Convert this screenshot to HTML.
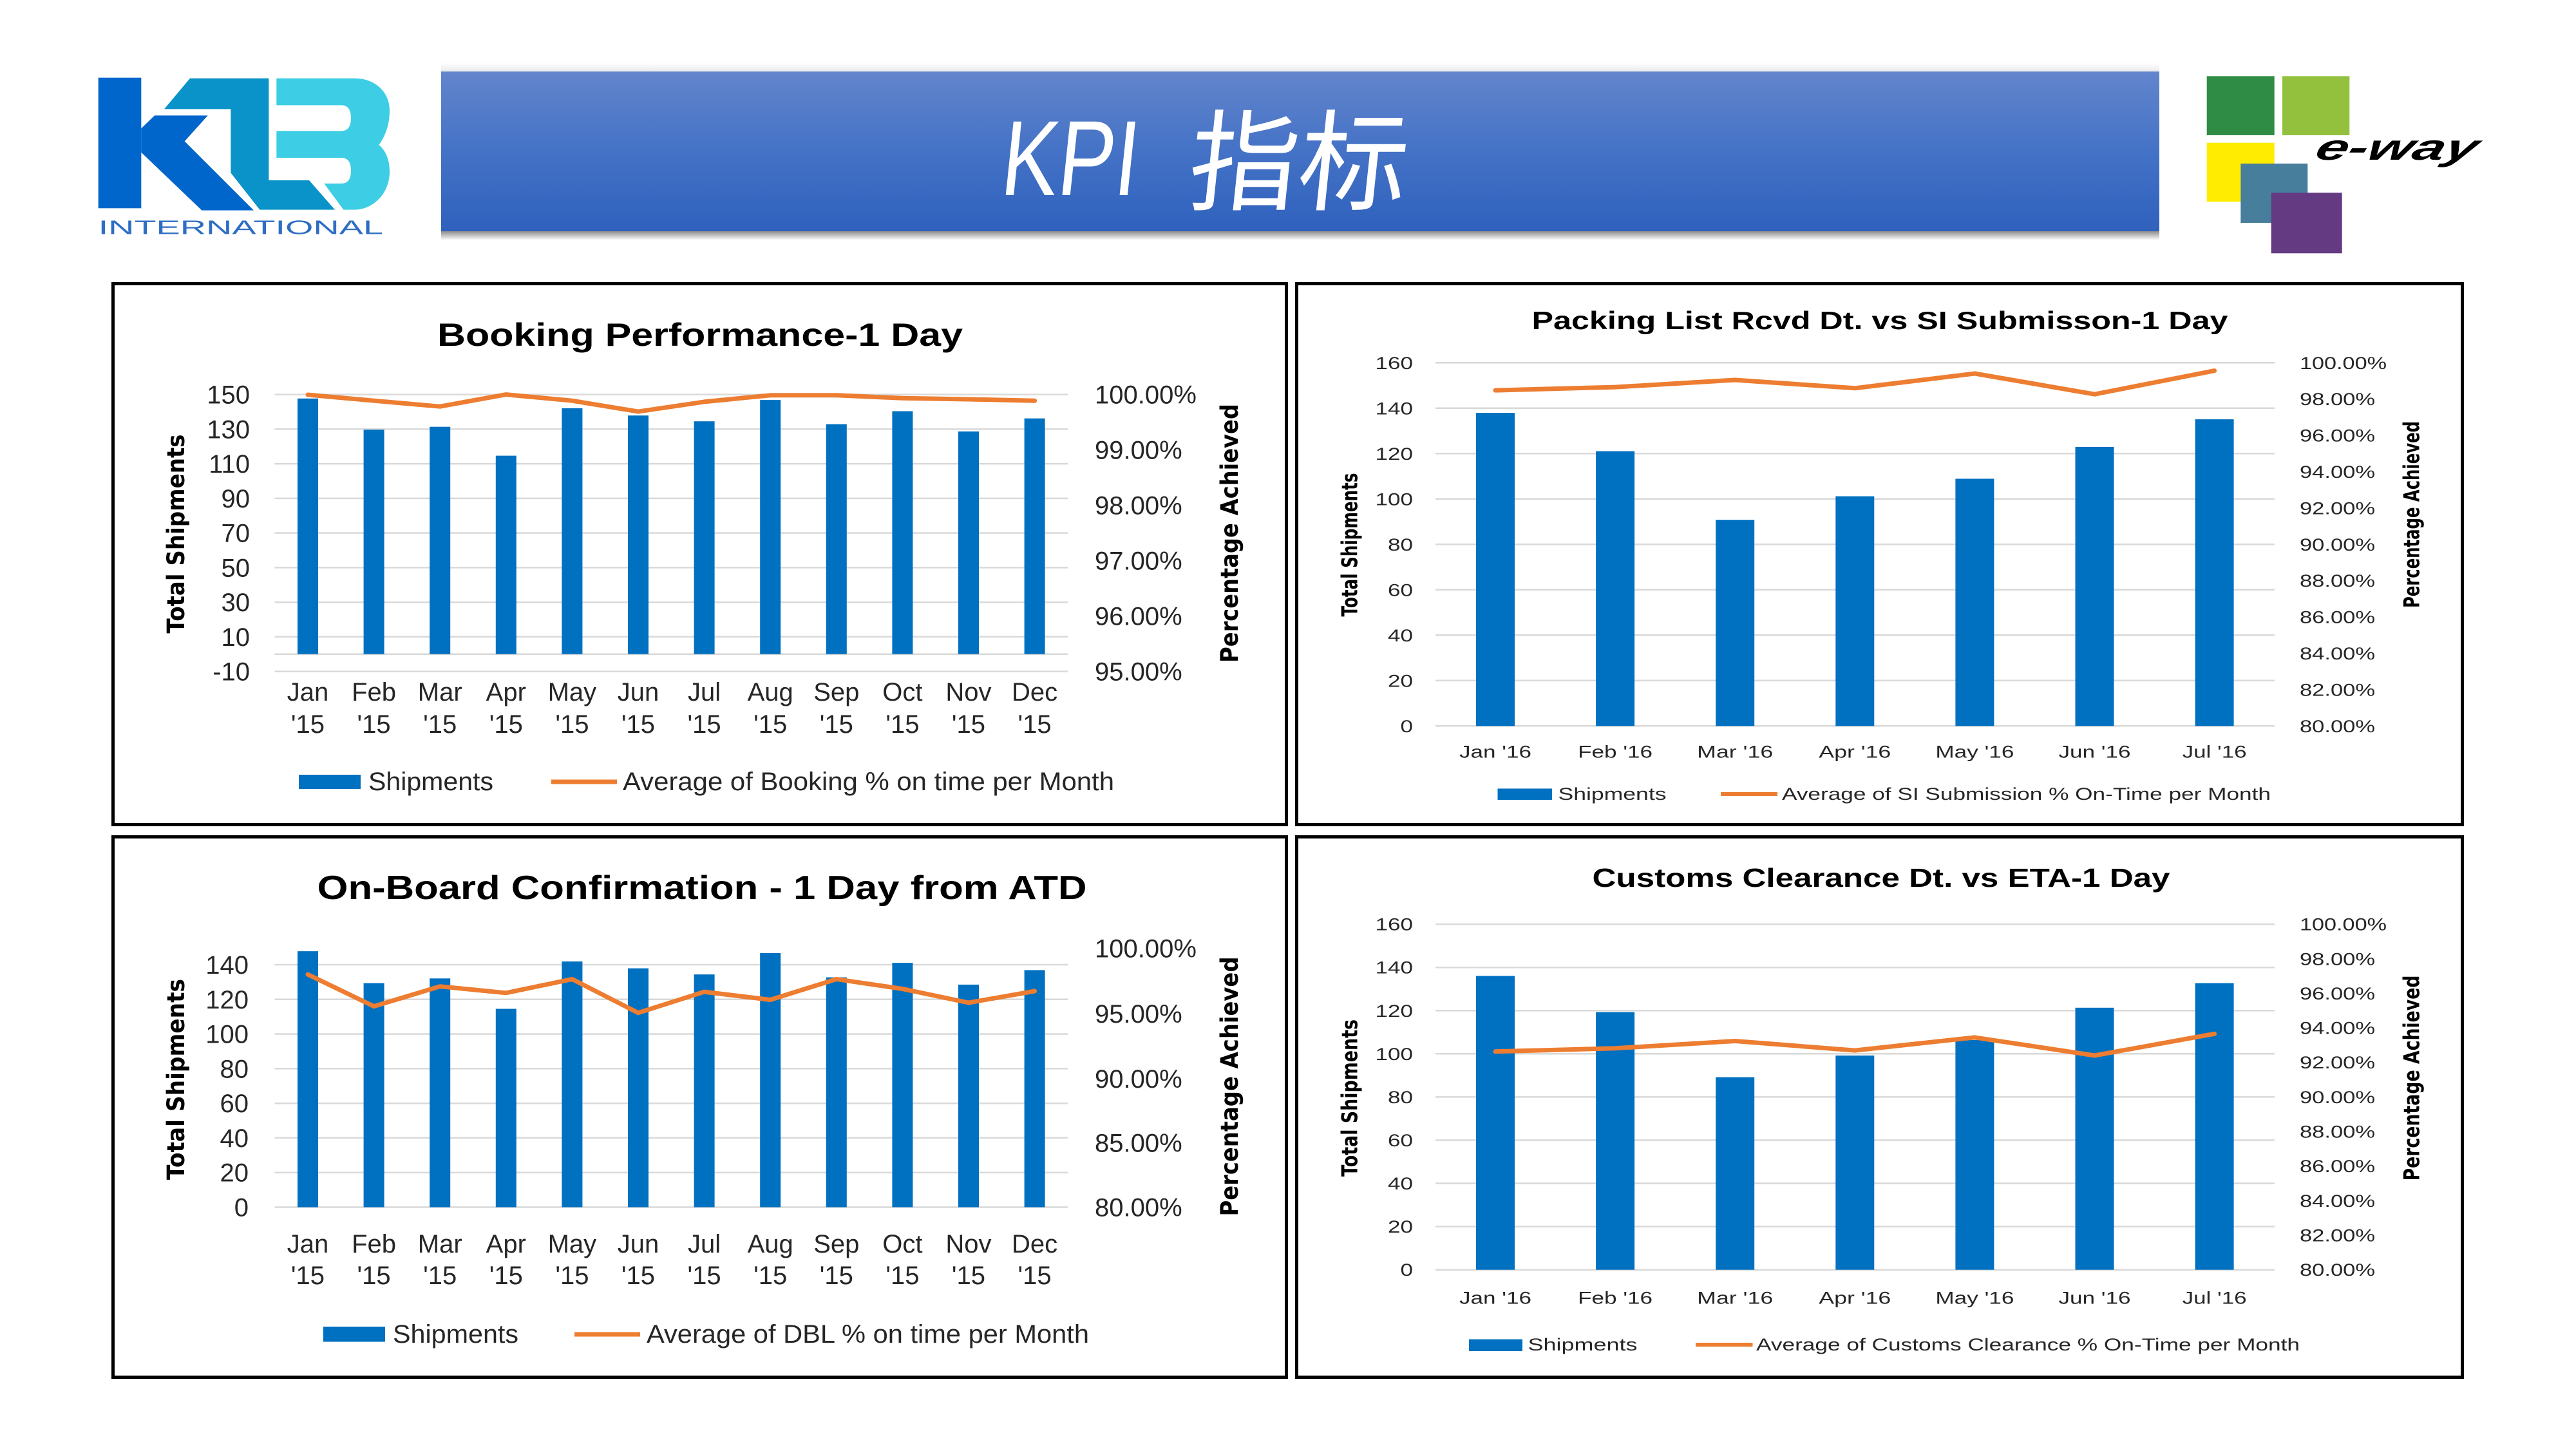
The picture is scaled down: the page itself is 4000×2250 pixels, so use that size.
<!DOCTYPE html>
<html><head><meta charset="utf-8"><style>
html,body{margin:0;padding:0;background:#fff;}
body{width:4000px;height:2250px;overflow:hidden;}
svg{display:block;}
.t{font-family:"Liberation Sans","Noto Sans CJK SC",sans-serif;}
.tk{font-family:"Liberation Sans",sans-serif;font-size:40px;fill:#262626;}
.tk2{font-family:"Liberation Sans",sans-serif;font-size:27px;fill:#262626;}
.ttl{font-family:"Liberation Sans",sans-serif;font-weight:bold;fill:#000;}
.ax{font-family:"DejaVu Sans","Liberation Sans",sans-serif;font-weight:bold;fill:#000;}
.g{stroke:#d9d9d9;stroke-width:2.5;}
.bar{fill:#0070c0;}
.ln{fill:none;stroke:#ed7d31;stroke-width:7;stroke-linejoin:round;stroke-linecap:round;}
</style></head><body>
<svg width="4000" height="2250" viewBox="0 0 4000 2250" xmlns="http://www.w3.org/2000/svg">
<defs>
<linearGradient id="bn" x1="0" y1="0" x2="0" y2="1">
<stop offset="0" stop-color="#6385cc"/><stop offset="0.5" stop-color="#4472c6"/><stop offset="1" stop-color="#2f61bd"/>
</linearGradient>
<linearGradient id="sh" x1="0" y1="0" x2="0" y2="1">
<stop offset="0" stop-color="#000" stop-opacity="0.45"/><stop offset="1" stop-color="#000" stop-opacity="0"/>
</linearGradient>
<linearGradient id="sh2" x1="0" y1="1" x2="0" y2="0">
<stop offset="0" stop-color="#000" stop-opacity="0.08"/><stop offset="1" stop-color="#000" stop-opacity="0"/>
</linearGradient>
</defs>
<rect width="4000" height="2250" fill="#fff"/>

<!-- KLB logo -->
<g transform="translate(140,100) scale(0.33333)">
<rect x="38" y="62" width="200" height="608" fill="#0066cc"/>
<polygon points="238,298 300,238 548,238 440,358 762,680 520,680 238,410" fill="#0066cc"/>
<polygon points="345,208 465,65 832,65 832,540 1020,540 1140,677 790,677 655,505 655,208" fill="#0a93c9"/>
<path d="M868,65 L1230,65 C1330,65 1395,130 1395,215 C1395,290 1370,340 1345,375 C1375,400 1395,440 1395,500 C1395,600 1320,677 1230,677 L1180,677 L1090,555 L1170,555 C1200,555 1215,535 1215,495 C1215,455 1200,435 1170,435 L868,435 L868,310 L1170,310 C1200,310 1215,290 1215,250 C1215,210 1200,190 1170,190 L868,190 Z" fill="#3dcde4"/>
<text x="38" y="790" font-size="92" textLength="1327" lengthAdjust="spacingAndGlyphs" class="t" fill="#2e6dc4">INTERNATIONAL</text>
</g>

<!-- Banner -->
<rect x="685" y="97" width="2668" height="14" fill="url(#sh2)"/>
<rect x="685" y="359" width="2668" height="14" fill="url(#sh)"/>
<rect x="685" y="111" width="2668" height="248" fill="url(#bn)"/>
<g transform="translate(0,303) skewX(-6) translate(0,-303)">
<text x="1551" y="303" font-size="166" textLength="212" lengthAdjust="spacingAndGlyphs" fill="#fff" style="font-family:'Liberation Sans',sans-serif;">KPI</text>
<text x="1842" y="313" font-size="170" textLength="340" lengthAdjust="spacingAndGlyphs" fill="#fff" style="font-family:'Liberation Sans','Noto Sans CJK SC',sans-serif;">指标</text>
</g>

<!-- e-way logo -->
<rect x="3426.7" y="118.3" width="105" height="91.7" fill="#2e8c44"/>
<rect x="3544" y="118.3" width="104.3" height="91.7" fill="#93c13e"/>
<rect x="3426.7" y="221.7" width="105" height="91.6" fill="#ffec00"/>
<rect x="3479.3" y="254" width="104" height="92" fill="#467e9c"/>
<rect x="3526.7" y="299.3" width="110" height="94" fill="#643a83"/>
<g transform="translate(3592,248) skewX(-18)">
<text x="0" y="0" font-size="56" font-weight="bold" font-style="italic" textLength="250" lengthAdjust="spacingAndGlyphs" fill="#000" style="font-family:'Liberation Sans',sans-serif;">e-way</text>
</g>

<!-- Panels -->
<rect x="175.5" y="440.5" width="1822" height="840" fill="none" stroke="#000" stroke-width="5"/>
<rect x="2013.5" y="440.5" width="1810" height="840" fill="none" stroke="#000" stroke-width="5"/>
<rect x="175.5" y="1299.5" width="1822" height="839" fill="none" stroke="#000" stroke-width="5"/>
<rect x="2013.5" y="1299.5" width="1810" height="839" fill="none" stroke="#000" stroke-width="5"/>

<!-- ============ CHART 1 ============ -->
<text class="ttl" x="1087" y="537" font-size="50" text-anchor="middle" textLength="816" lengthAdjust="spacingAndGlyphs">Booking Performance-1 Day</text>
<g class="g">
<line x1="426.5" x2="1658" y1="612.6" y2="612.6"/><line x1="426.5" x2="1658" y1="666.4" y2="666.4"/>
<line x1="426.5" x2="1658" y1="720.1" y2="720.1"/><line x1="426.5" x2="1658" y1="773.9" y2="773.9"/>
<line x1="426.5" x2="1658" y1="827.6" y2="827.6"/><line x1="426.5" x2="1658" y1="881.4" y2="881.4"/>
<line x1="426.5" x2="1658" y1="935.1" y2="935.1"/><line x1="426.5" x2="1658" y1="988.8" y2="988.8"/>
<line x1="426.5" x2="1658" y1="1015.7" y2="1015.7"/><line x1="426.5" x2="1658" y1="1042.6" y2="1042.6"/>
</g>
<g class="bar">
<rect x="462" y="618.8" width="32" height="396.9"/><rect x="564.6" y="667.2" width="32" height="348.5"/>
<rect x="667.2" y="662.7" width="32" height="353"/><rect x="769.8" y="707.6" width="32" height="308.1"/>
<rect x="872.4" y="634" width="32" height="381.7"/><rect x="975" y="645.2" width="32" height="370.5"/>
<rect x="1077.6" y="654.2" width="32" height="361.5"/><rect x="1180.2" y="621.1" width="32" height="394.6"/>
<rect x="1282.8" y="658.7" width="32" height="357"/><rect x="1385.4" y="638.5" width="32" height="377.2"/>
<rect x="1488" y="670" width="32" height="345.7"/><rect x="1590.6" y="649.7" width="32" height="366"/>
</g>
<polyline class="ln" points="478,613 580.6,622.2 683.2,631.2 785.8,612.6 888.4,622.2 991,639.1 1093.6,623.9 1196.2,613.8 1298.8,613.8 1401.4,618.3 1504,620 1606.6,622.2"/>
<g class="tk" text-anchor="end">
<text x="388" y="626.6">150</text><text x="388" y="680.4">130</text><text x="388" y="734.1">110</text>
<text x="388" y="787.9">90</text><text x="388" y="841.6">70</text><text x="388" y="895.4">50</text>
<text x="388" y="949.1">30</text><text x="388" y="1002.8">10</text><text x="388" y="1056.6">-10</text>
</g>
<g class="tk">
<text x="1700" y="626.6">100.00%</text><text x="1700" y="712.6">99.00%</text><text x="1700" y="798.6">98.00%</text>
<text x="1700" y="884.6">97.00%</text><text x="1700" y="970.6">96.00%</text><text x="1700" y="1056.6">95.00%</text>
</g>
<g class="tk" text-anchor="middle">
<text x="478" y="1088">Jan</text><text x="580.6" y="1088">Feb</text><text x="683.2" y="1088">Mar</text>
<text x="785.8" y="1088">Apr</text><text x="888.4" y="1088">May</text><text x="991" y="1088">Jun</text>
<text x="1093.6" y="1088">Jul</text><text x="1196.2" y="1088">Aug</text><text x="1298.8" y="1088">Sep</text>
<text x="1401.4" y="1088">Oct</text><text x="1504" y="1088">Nov</text><text x="1606.6" y="1088">Dec</text>
<text x="478" y="1138">'15</text><text x="580.6" y="1138">'15</text><text x="683.2" y="1138">'15</text>
<text x="785.8" y="1138">'15</text><text x="888.4" y="1138">'15</text><text x="991" y="1138">'15</text>
<text x="1093.6" y="1138">'15</text><text x="1196.2" y="1138">'15</text><text x="1298.8" y="1138">'15</text>
<text x="1401.4" y="1138">'15</text><text x="1504" y="1138">'15</text><text x="1606.6" y="1138">'15</text>
</g>
<text class="ax" font-size="34" text-anchor="middle" transform="translate(274,829) scale(1.1,1) rotate(-90)" y="11" textLength="309" lengthAdjust="spacingAndGlyphs">Total Shipments</text>
<text class="ax" font-size="34" text-anchor="middle" transform="translate(1910,828) scale(1.1,1) rotate(-90)" y="11" textLength="402" lengthAdjust="spacingAndGlyphs">Percentage Achieved</text>
<rect x="464" y="1203" width="96" height="22" fill="#0070c0"/>
<text class="tk" x="572" y="1227" textLength="194" lengthAdjust="spacingAndGlyphs">Shipments</text>
<line x1="856" y1="1214" x2="958" y2="1214" stroke="#ed7d31" stroke-width="7"/>
<text class="tk" x="967" y="1227" textLength="763" lengthAdjust="spacingAndGlyphs">Average of Booking % on time per Month</text>

<!-- ============ CHART 3 ============ -->
<text class="ttl" x="1090" y="1396" font-size="52" text-anchor="middle" textLength="1195" lengthAdjust="spacingAndGlyphs">On-Board Confirmation - 1 Day from ATD</text>
<g class="g">
<line x1="426.5" x2="1658" y1="1874.5" y2="1874.5"/><line x1="426.5" x2="1658" y1="1820.7" y2="1820.7"/>
<line x1="426.5" x2="1658" y1="1766.9" y2="1766.9"/><line x1="426.5" x2="1658" y1="1713.2" y2="1713.2"/>
<line x1="426.5" x2="1658" y1="1659.4" y2="1659.4"/><line x1="426.5" x2="1658" y1="1605.6" y2="1605.6"/>
<line x1="426.5" x2="1658" y1="1551.8" y2="1551.8"/><line x1="426.5" x2="1658" y1="1498" y2="1498"/>
</g>
<g class="bar">
<rect x="462" y="1477.1" width="32" height="397.4"/><rect x="564.6" y="1526.6" width="32" height="347.9"/>
<rect x="667.2" y="1519.3" width="32" height="355.2"/><rect x="769.8" y="1566.5" width="32" height="308"/>
<rect x="872.4" y="1492.9" width="32" height="381.6"/><rect x="975" y="1503.6" width="32" height="370.9"/>
<rect x="1077.6" y="1513.1" width="32" height="361.4"/><rect x="1180.2" y="1480" width="32" height="394.5"/>
<rect x="1282.8" y="1517.6" width="32" height="356.9"/><rect x="1385.4" y="1495.1" width="32" height="379.4"/>
<rect x="1488" y="1528.9" width="32" height="345.6"/><rect x="1590.6" y="1506.4" width="32" height="368.1"/>
</g>
<polyline class="ln" points="478,1513.1 580.6,1562.6 683.2,1531.7 785.8,1541.8 888.4,1520.4 991,1572.7 1093.6,1540.1 1196.2,1552.5 1298.8,1520.4 1401.4,1535.6 1504,1557 1606.6,1539"/>
<g class="tk" text-anchor="end">
<text x="386" y="1888.5">0</text><text x="386" y="1834.7">20</text><text x="386" y="1780.9">40</text>
<text x="386" y="1727.2">60</text><text x="386" y="1673.4">80</text><text x="386" y="1619.6">100</text>
<text x="386" y="1565.8">120</text><text x="386" y="1512">140</text>
</g>
<g class="tk">
<text x="1700" y="1486.6">100.00%</text><text x="1700" y="1587.8">95.00%</text><text x="1700" y="1689">90.00%</text>
<text x="1700" y="1788.4">85.00%</text><text x="1700" y="1888.5">80.00%</text>
</g>
<g class="tk" text-anchor="middle">
<text x="478" y="1945">Jan</text><text x="580.6" y="1945">Feb</text><text x="683.2" y="1945">Mar</text>
<text x="785.8" y="1945">Apr</text><text x="888.4" y="1945">May</text><text x="991" y="1945">Jun</text>
<text x="1093.6" y="1945">Jul</text><text x="1196.2" y="1945">Aug</text><text x="1298.8" y="1945">Sep</text>
<text x="1401.4" y="1945">Oct</text><text x="1504" y="1945">Nov</text><text x="1606.6" y="1945">Dec</text>
<text x="478" y="1994">'15</text><text x="580.6" y="1994">'15</text><text x="683.2" y="1994">'15</text>
<text x="785.8" y="1994">'15</text><text x="888.4" y="1994">'15</text><text x="991" y="1994">'15</text>
<text x="1093.6" y="1994">'15</text><text x="1196.2" y="1994">'15</text><text x="1298.8" y="1994">'15</text>
<text x="1401.4" y="1994">'15</text><text x="1504" y="1994">'15</text><text x="1606.6" y="1994">'15</text>
</g>
<text class="ax" font-size="34" text-anchor="middle" transform="translate(274,1676) scale(1.1,1) rotate(-90)" y="11" textLength="312" lengthAdjust="spacingAndGlyphs">Total Shipments</text>
<text class="ax" font-size="34" text-anchor="middle" transform="translate(1910,1687) scale(1.1,1) rotate(-90)" y="11" textLength="403" lengthAdjust="spacingAndGlyphs">Percentage Achieved</text>
<rect x="502" y="2060" width="96" height="23.5" fill="#0070c0"/>
<text class="tk" x="610" y="2085" textLength="195" lengthAdjust="spacingAndGlyphs">Shipments</text>
<line x1="892" y1="2072" x2="994" y2="2072" stroke="#ed7d31" stroke-width="7"/>
<text class="tk" x="1004" y="2085" textLength="687" lengthAdjust="spacingAndGlyphs">Average of DBL % on time per Month</text>

<!-- ============ CHART 2 ============ -->
<text class="ttl" x="2919" y="511" font-size="39" text-anchor="middle" textLength="1081" lengthAdjust="spacingAndGlyphs">Packing List Rcvd Dt. vs SI Submisson-1 Day</text>
<g class="g">
<line x1="2229" x2="3532" y1="1127.3" y2="1127.3"/><line x1="2229" x2="3532" y1="1056.8" y2="1056.8"/>
<line x1="2229" x2="3532" y1="986.3" y2="986.3"/><line x1="2229" x2="3532" y1="915.8" y2="915.8"/>
<line x1="2229" x2="3532" y1="845.3" y2="845.3"/><line x1="2229" x2="3532" y1="774.8" y2="774.8"/>
<line x1="2229" x2="3532" y1="704.3" y2="704.3"/><line x1="2229" x2="3532" y1="633.8" y2="633.8"/>
<line x1="2229" x2="3532" y1="563.3" y2="563.3"/>
</g>
<g class="bar">
<rect x="2292" y="641.1" width="60" height="486.2"/><rect x="2478.1" y="700.6" width="60" height="426.7"/>
<rect x="2664.2" y="807.2" width="60" height="320.1"/><rect x="2850.3" y="770.6" width="60" height="356.7"/>
<rect x="3036.4" y="743.4" width="60" height="383.9"/><rect x="3222.5" y="693.9" width="60" height="433.4"/>
<rect x="3408.6" y="651.1" width="60" height="476.2"/>
</g>
<polyline class="ln" points="2322,606.1 2508.1,601.1 2694.2,590 2880.3,602.8 3066.4,580 3252.5,612.2 3438.6,575.6"/>
<g class="tk2" text-anchor="end">
<text x="2194" y="1136.8" textLength="19.5" lengthAdjust="spacingAndGlyphs">0</text>
<text x="2194" y="1066.3" textLength="39" lengthAdjust="spacingAndGlyphs">20</text>
<text x="2194" y="995.8" textLength="39" lengthAdjust="spacingAndGlyphs">40</text>
<text x="2194" y="925.3" textLength="39" lengthAdjust="spacingAndGlyphs">60</text>
<text x="2194" y="854.8" textLength="39" lengthAdjust="spacingAndGlyphs">80</text>
<text x="2194" y="784.3" textLength="58.5" lengthAdjust="spacingAndGlyphs">100</text>
<text x="2194" y="713.8" textLength="58.5" lengthAdjust="spacingAndGlyphs">120</text>
<text x="2194" y="643.3" textLength="58.5" lengthAdjust="spacingAndGlyphs">140</text>
<text x="2194" y="572.8" textLength="58.5" lengthAdjust="spacingAndGlyphs">160</text>
</g>
<g class="tk2">
<text x="3571" y="572.8" textLength="135" lengthAdjust="spacingAndGlyphs">100.00%</text>
<text x="3571" y="629.2" textLength="117" lengthAdjust="spacingAndGlyphs">98.00%</text>
<text x="3571" y="685.6" textLength="117" lengthAdjust="spacingAndGlyphs">96.00%</text>
<text x="3571" y="742" textLength="117" lengthAdjust="spacingAndGlyphs">94.00%</text>
<text x="3571" y="798.4" textLength="117" lengthAdjust="spacingAndGlyphs">92.00%</text>
<text x="3571" y="854.8" textLength="117" lengthAdjust="spacingAndGlyphs">90.00%</text>
<text x="3571" y="911.2" textLength="117" lengthAdjust="spacingAndGlyphs">88.00%</text>
<text x="3571" y="967.6" textLength="117" lengthAdjust="spacingAndGlyphs">86.00%</text>
<text x="3571" y="1024" textLength="117" lengthAdjust="spacingAndGlyphs">84.00%</text>
<text x="3571" y="1080.4" textLength="117" lengthAdjust="spacingAndGlyphs">82.00%</text>
<text x="3571" y="1136.8" textLength="117" lengthAdjust="spacingAndGlyphs">80.00%</text>
</g>
<g class="tk2" text-anchor="middle">
<text x="2322" y="1176.5" textLength="112" lengthAdjust="spacingAndGlyphs">Jan '16</text>
<text x="2508.1" y="1176.5" textLength="116" lengthAdjust="spacingAndGlyphs">Feb '16</text>
<text x="2694.2" y="1176.5" textLength="118" lengthAdjust="spacingAndGlyphs">Mar '16</text>
<text x="2880.3" y="1176.5" textLength="112" lengthAdjust="spacingAndGlyphs">Apr '16</text>
<text x="3066.4" y="1176.5" textLength="122" lengthAdjust="spacingAndGlyphs">May '16</text>
<text x="3252.5" y="1176.5" textLength="112" lengthAdjust="spacingAndGlyphs">Jun '16</text>
<text x="3438.6" y="1176.5" textLength="100" lengthAdjust="spacingAndGlyphs">Jul '16</text>
</g>
<text class="ax" font-size="26" text-anchor="middle" transform="translate(2097,846) scale(1.3,1) rotate(-90)" y="8" textLength="223" lengthAdjust="spacingAndGlyphs">Total Shipments</text>
<text class="ax" font-size="26" text-anchor="middle" transform="translate(3746,799) scale(1.3,1) rotate(-90)" y="8" textLength="290" lengthAdjust="spacingAndGlyphs">Percentage Achieved</text>
<rect x="2325.5" y="1224.5" width="84.5" height="17.5" fill="#0070c0"/>
<text class="tk2" x="2419.5" y="1242" textLength="168" lengthAdjust="spacingAndGlyphs">Shipments</text>
<line x1="2672" y1="1233" x2="2760" y2="1233" stroke="#ed7d31" stroke-width="6"/>
<text class="tk2" x="2767" y="1242" textLength="759" lengthAdjust="spacingAndGlyphs">Average of SI Submission % On-Time per Month</text>

<!-- ============ CHART 4 ============ -->
<text class="ttl" x="2921" y="1377" font-size="41" text-anchor="middle" textLength="897" lengthAdjust="spacingAndGlyphs">Customs Clearance Dt. vs ETA-1 Day</text>
<g class="g">
<line x1="2229" x2="3532" y1="1971.7" y2="1971.7"/><line x1="2229" x2="3532" y1="1904.6" y2="1904.6"/>
<line x1="2229" x2="3532" y1="1837.5" y2="1837.5"/><line x1="2229" x2="3532" y1="1770.5" y2="1770.5"/>
<line x1="2229" x2="3532" y1="1703.4" y2="1703.4"/><line x1="2229" x2="3532" y1="1636.3" y2="1636.3"/>
<line x1="2229" x2="3532" y1="1569.3" y2="1569.3"/><line x1="2229" x2="3532" y1="1502.2" y2="1502.2"/>
<line x1="2229" x2="3532" y1="1435.1" y2="1435.1"/>
</g>
<g class="bar">
<rect x="2292" y="1515.4" width="60" height="456.3"/><rect x="2478.1" y="1571.6" width="60" height="400.1"/>
<rect x="2664.2" y="1672.7" width="60" height="299"/><rect x="2850.3" y="1639" width="60" height="332.7"/>
<rect x="3036.4" y="1615" width="60" height="356.7"/><rect x="3222.5" y="1564.8" width="60" height="406.9"/>
<rect x="3408.6" y="1526.6" width="60" height="445.1"/>
</g>
<polyline class="ln" points="2322,1632.8 2508.1,1627.8 2694.2,1616.5 2880.3,1631.1 3066.4,1610.9 3252.5,1639 3438.6,1605.3"/>
<g class="tk2" text-anchor="end">
<text x="2194" y="1981.2" textLength="19.5" lengthAdjust="spacingAndGlyphs">0</text>
<text x="2194" y="1914.1" textLength="39" lengthAdjust="spacingAndGlyphs">20</text>
<text x="2194" y="1847" textLength="39" lengthAdjust="spacingAndGlyphs">40</text>
<text x="2194" y="1780" textLength="39" lengthAdjust="spacingAndGlyphs">60</text>
<text x="2194" y="1712.9" textLength="39" lengthAdjust="spacingAndGlyphs">80</text>
<text x="2194" y="1645.8" textLength="58.5" lengthAdjust="spacingAndGlyphs">100</text>
<text x="2194" y="1578.8" textLength="58.5" lengthAdjust="spacingAndGlyphs">120</text>
<text x="2194" y="1511.7" textLength="58.5" lengthAdjust="spacingAndGlyphs">140</text>
<text x="2194" y="1444.6" textLength="58.5" lengthAdjust="spacingAndGlyphs">160</text>
</g>
<g class="tk2">
<text x="3571" y="1444.6" textLength="135" lengthAdjust="spacingAndGlyphs">100.00%</text>
<text x="3571" y="1498.3" textLength="117" lengthAdjust="spacingAndGlyphs">98.00%</text>
<text x="3571" y="1551.9" textLength="117" lengthAdjust="spacingAndGlyphs">96.00%</text>
<text x="3571" y="1605.6" textLength="117" lengthAdjust="spacingAndGlyphs">94.00%</text>
<text x="3571" y="1659.2" textLength="117" lengthAdjust="spacingAndGlyphs">92.00%</text>
<text x="3571" y="1712.9" textLength="117" lengthAdjust="spacingAndGlyphs">90.00%</text>
<text x="3571" y="1766.6" textLength="117" lengthAdjust="spacingAndGlyphs">88.00%</text>
<text x="3571" y="1820.2" textLength="117" lengthAdjust="spacingAndGlyphs">86.00%</text>
<text x="3571" y="1873.9" textLength="117" lengthAdjust="spacingAndGlyphs">84.00%</text>
<text x="3571" y="1927.5" textLength="117" lengthAdjust="spacingAndGlyphs">82.00%</text>
<text x="3571" y="1981.2" textLength="117" lengthAdjust="spacingAndGlyphs">80.00%</text>
</g>
<g class="tk2" text-anchor="middle">
<text x="2322" y="2024.5" textLength="112" lengthAdjust="spacingAndGlyphs">Jan '16</text>
<text x="2508.1" y="2024.5" textLength="116" lengthAdjust="spacingAndGlyphs">Feb '16</text>
<text x="2694.2" y="2024.5" textLength="118" lengthAdjust="spacingAndGlyphs">Mar '16</text>
<text x="2880.3" y="2024.5" textLength="112" lengthAdjust="spacingAndGlyphs">Apr '16</text>
<text x="3066.4" y="2024.5" textLength="122" lengthAdjust="spacingAndGlyphs">May '16</text>
<text x="3252.5" y="2024.5" textLength="112" lengthAdjust="spacingAndGlyphs">Jun '16</text>
<text x="3438.6" y="2024.5" textLength="100" lengthAdjust="spacingAndGlyphs">Jul '16</text>
</g>
<text class="ax" font-size="26" text-anchor="middle" transform="translate(2097,1705) scale(1.3,1) rotate(-90)" y="8" textLength="244" lengthAdjust="spacingAndGlyphs">Total Shipments</text>
<text class="ax" font-size="26" text-anchor="middle" transform="translate(3746,1674) scale(1.3,1) rotate(-90)" y="8" textLength="319" lengthAdjust="spacingAndGlyphs">Percentage Achieved</text>
<rect x="2281" y="2079.6" width="83" height="18.4" fill="#0070c0"/>
<text class="tk2" x="2372.5" y="2097" textLength="170" lengthAdjust="spacingAndGlyphs">Shipments</text>
<line x1="2633" y1="2088" x2="2721.5" y2="2088" stroke="#ed7d31" stroke-width="6"/>
<text class="tk2" x="2727" y="2097" textLength="844" lengthAdjust="spacingAndGlyphs">Average of Customs Clearance % On-Time per Month</text>
</svg>
</body></html>
